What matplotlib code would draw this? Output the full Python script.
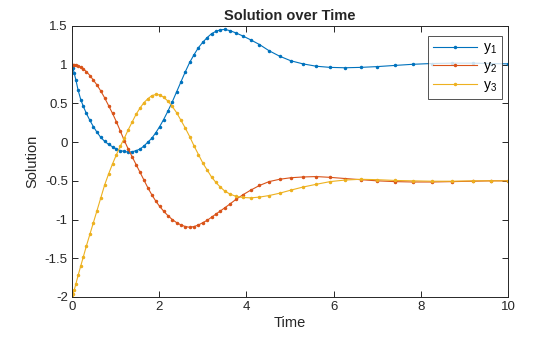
import numpy as np
import matplotlib
matplotlib.use("Agg")
import matplotlib.pyplot as plt

plt.rcParams['font.family'] = ['Liberation Sans', 'DejaVu Sans']
plt.rcParams['axes.unicode_minus'] = False
plt.rcParams['mathtext.fontset'] = 'custom'
plt.rcParams['mathtext.rm'] = 'Liberation Sans'

# time points (solver steps)
t = [0, 0.02, 0.05, 0.09, 0.14, 0.2, 0.26, 0.33, 0.41, 0.49, 0.57, 0.66, 0.75, 0.84,
     0.93, 1.02, 1.11, 1.2, 1.29, 1.38, 1.47, 1.56, 1.65, 1.74, 1.83, 1.92, 2.01, 2.1,
     2.2, 2.3, 2.4, 2.5, 2.6, 2.7, 2.8, 2.9, 3.0, 3.1, 3.2, 3.3, 3.4, 3.5, 3.62, 3.76,
     3.92, 4.1, 4.3, 4.52, 4.76, 5.02, 5.3, 5.6, 5.92, 6.26, 6.62, 7.0, 7.4, 7.82, 8.26,
     8.72, 9.2, 9.6, 10.0]

y1 = [1.0, 0.96, 0.89, 0.80, 0.67, 0.55, 0.46, 0.37, 0.28, 0.20, 0.13, 0.06, 0.01, -0.03,
      -0.06, -0.09, -0.11, -0.12, -0.13, -0.125, -0.11, -0.09, -0.05, 0.0, 0.05, 0.12, 0.20, 0.29,
      0.40, 0.52, 0.65, 0.78, 0.91, 1.03, 1.13, 1.22, 1.29, 1.35, 1.40, 1.43, 1.45, 1.455, 1.44, 1.41,
      1.37, 1.32, 1.26, 1.18, 1.11, 1.05, 1.01, 0.98, 0.965, 0.96, 0.965, 0.975, 0.99, 1.005, 1.015,
      1.02, 1.02, 1.015, 1.01]

y2 = [1.0, 1.0, 1.0, 0.995, 0.985, 0.97, 0.945, 0.91, 0.86, 0.80, 0.74, 0.66, 0.57, 0.47,
      0.37, 0.26, 0.14, 0.02, -0.09, -0.19, -0.29, -0.39, -0.49, -0.59, -0.68, -0.76, -0.83, -0.89,
      -0.95, -1.0, -1.04, -1.07, -1.09, -1.10, -1.09, -1.07, -1.04, -1.01, -0.97, -0.93, -0.89, -0.85, -0.80, -0.74,
      -0.68, -0.62, -0.56, -0.51, -0.48, -0.46, -0.45, -0.445, -0.455, -0.47, -0.485, -0.50, -0.51, -0.515, -0.515,
      -0.51, -0.505, -0.5, -0.5]

y3 = [-2.0, -1.96, -1.91, -1.83, -1.72, -1.60, -1.48, -1.34, -1.19, -1.04, -0.89, -0.72, -0.55, -0.41,
      -0.28, -0.16, -0.05, 0.05, 0.16, 0.26, 0.36, 0.44, 0.51, 0.56, 0.60, 0.615, 0.61, 0.58,
      0.53, 0.46, 0.38, 0.28, 0.18, 0.07, -0.05, -0.16, -0.27, -0.36, -0.45, -0.52, -0.58, -0.63, -0.67, -0.70,
      -0.715, -0.72, -0.71, -0.69, -0.66, -0.62, -0.58, -0.545, -0.51, -0.49, -0.48, -0.485, -0.495, -0.50, -0.505,
      -0.505, -0.50, -0.50, -0.50]

series = [y1, y2, y3]
labels = ['$\\mathregular{y_1}$', '$\\mathregular{y_2}$', '$\\mathregular{y_3}$']
colors = ['#0072BD', '#D95319', '#EDB120']

fig = plt.figure(figsize=(5.6, 3.37), dpi=100)
ax = fig.add_axes([0.1286, 0.1187, 0.7785, 0.8043])

for y, lab, c in zip(series, labels, colors):
    ax.plot(t, y, '-', marker='.', markersize=3, linewidth=0.8, color=c, label=lab)

ax.set_xlim(0, 10)
ax.set_ylim(-2, 1.5)
ax.set_xticks([0, 2, 4, 6, 8, 10])
ax.set_yticks([-2, -1.5, -1, -0.5, 0, 0.5, 1, 1.5])
ax.set_yticklabels(['-2', '-1.5', '-1', '-0.5', '0', '0.5', '1', '1.5'])
ax.tick_params(direction='in', top=True, right=True, length=4, width=0.7,
               labelsize=9.5, colors='#262626', pad=3)
for s in ax.spines.values():
    s.set_color('#262626')
    s.set_linewidth(0.7)

ax.set_xlabel('Time', fontsize=10.5, color='#262626', labelpad=2)
ax.set_ylabel('Solution', fontsize=10.5, color='#262626', labelpad=4)
ax.set_title('Solution over Time', fontsize=10.5, fontweight='bold', color='#262626', pad=4)

leg = ax.legend(loc='upper right', bbox_to_anchor=(0.995, 0.98), fontsize=10, frameon=True,
                fancybox=False, edgecolor='#262626', handlelength=3.2, borderpad=0.35,
                labelspacing=0.2, handletextpad=0.4, borderaxespad=0.3)
leg.get_frame().set_linewidth(0.7)
for h in leg.legend_handles:
    h.set_markevery([1])

fig.savefig('out.png', dpi=100)
